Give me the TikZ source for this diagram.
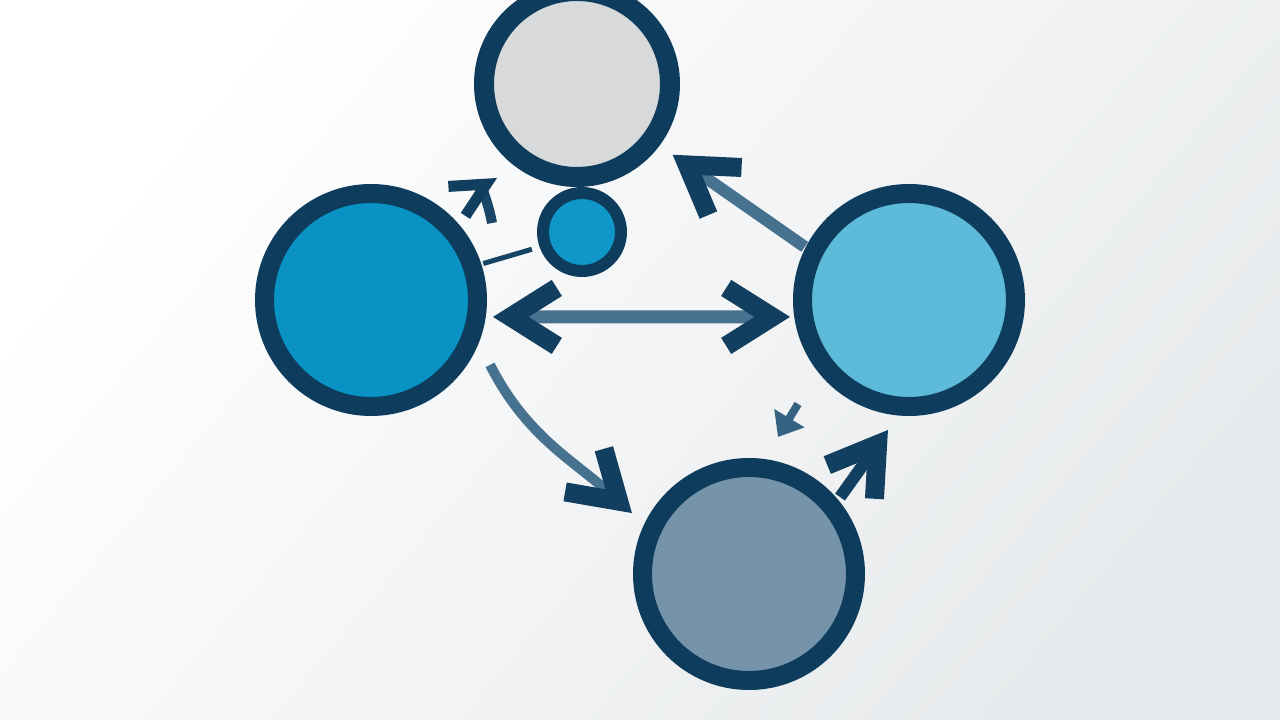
\documentclass[tikz,border=0pt]{standalone}
\usetikzlibrary{arrows.meta}
\definecolor{ringc}{HTML}{0E3C5D}
\definecolor{headc}{HTML}{123F60}
\definecolor{shaftc}{HTML}{46718F}
\definecolor{fillL}{HTML}{0893C4}
\definecolor{fillT}{HTML}{D7D9DB}
\definecolor{fillR}{HTML}{5DBAD9}
\definecolor{fillB}{HTML}{7594A9}
\definecolor{fillS}{HTML}{0E97C8}
\definecolor{bgBR}{HTML}{E7EAEC}
\begin{document}
\begin{tikzpicture}[x=1pt,y=1pt,
  bub/.style={circle, draw=ringc, line width=19pt, inner sep=0pt, minimum size=213pt},
  topbub/.style={circle, draw=ringc, line width=20pt, inner sep=0pt, minimum size=186pt},
  smallbub/.style={circle, draw=ringc, line width=12pt, inner sep=0pt, minimum size=78pt},
  barb/.tip={Straight Barb[length=46pt, width=58pt, line width=19pt, color=headc]},
  conn/.style={draw=shaftc, line width=12pt},
  smallbarb/.tip={Straight Barb[length=34pt, width=34pt, line width=11pt, color=headc]},
]
\useasboundingbox (0,0) rectangle (1280,720);
\shade[top color=white, bottom color=bgBR, shading angle=50] (0,0) rectangle (1280,720);

\node[topbub, fill=fillT] (T) at (577,636) {};
\node[bub, fill=fillL] (L) at (371,420) {};
\node[bub, fill=fillR] (R) at (909,420) {};
\node[bub, fill=fillB] (B) at (749,146) {};
\node[smallbub, fill=fillS] (S) at (582,488) {};

% link left -> small
\draw[draw=ringc!85!shaftc, line width=5pt] ([shift={(18:118)}]L.center) -- ([shift={(199:53)}]S.center);

% double arrow
\draw[conn, line width=13pt, {barb}-{barb}] ([shift={(-7.9:123.2)}]L.center) -- ([shift={(188.1:120.2)}]R.center);

% right -> top
\draw[conn, -{barb}] ([shift={(153:117)}]R.center) -- ([shift={(-36.5:119)}]T.center);

% left -> bottom (curved)
\draw[conn, line width=10pt, -{barb}] ([shift={(-28.6:135.6)}]L.center) to[out=-63, in=138] ([shift={(152.5:132)}]B.center);

% bottom -> right
\draw[draw=headc, line width=12pt, -{barb}] ([shift={(40.2:119.2)}]B.center) -- ([shift={(260.8:131.7)}]R.center);

% small free arrows
\coordinate (a1) at (492,497);
\coordinate (a2) at (497,542);
\draw[draw=headc!85!shaftc, line width=10pt, -{smallbarb}] (a1) to[out=100, in=210] (a2);

\coordinate (b1) at (798,316);
\coordinate (b2) at (778,283);
\draw[draw=shaftc!70!headc, line width=8pt, -{Triangle[length=22pt, width=34pt, color=shaftc!70!headc]}] (b1) -- (b2);
\end{tikzpicture}
\end{document}
